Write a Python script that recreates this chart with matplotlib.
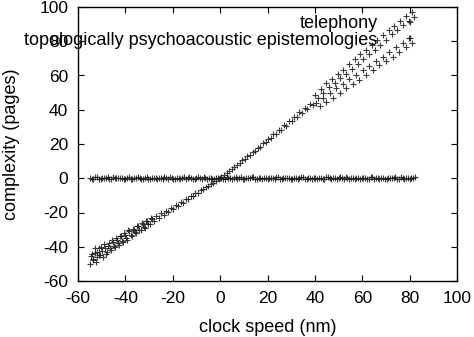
import matplotlib
matplotlib.use("Agg")
import matplotlib.pyplot as plt

plt.rcParams['font.family'] = ['Liberation Sans', 'DejaVu Sans']
plt.rcParams['axes.unicode_minus'] = False

# diagonal series (telephony)
tel_x = [-55, -54.2, -53.5, -53, -52.4, -51.8, -51, -50.3, -49.5, -48.7,
         -47.9, -47, -46.2, -45.3, -44.5, -43.6, -42.8, -41.9, -41, -40.1,
         -39.2, -38.3, -37.4, -36.5, -35.5, -34.6, -33.6, -32.7, -31.7, -30.8,
         -29.8, -28.8, -27.9, -26.9, -25.9, -24.9, -23.9, -22.9, -21.9, -20.9,
         -19.8, -18.8, -17.8, -16.7, -15.7, -14.6, -13.6, -12.5, -11.5, -10.4,
         -9.3, -8.2, -7.2, -6.1, -5.0, -3.9, -2.8, -1.7, -0.6,
         0.5, 1.6, 2.7, 3.8, 4.9, 6, 7.1, 8.2, 9.3, 10.4, 11.5, 12.6, 13.7,
         14.8, 15.9, 17, 18.1, 19.2, 20.3, 21.4, 22.5, 23.6, 24.7, 25.8, 26.9,
         28, 29.1, 30.2, 31.3, 32.4, 33.5, 34.6, 35.7, 36.8, 37.9, 39,
         40, 41.2, 42.4, 43.6, 44.8, 46, 47.2, 48.4, 49.6, 50.8, 52, 53.2,
         54.4, 55.6, 56.8, 58, 59.2, 60.4, 61.6, 62.8, 64, 65.2, 66.4, 67.6,
         68.8, 70, 71.2, 72.4, 73.6, 74.8, 76, 77.2, 78.4, 79.6, 80.8, 82,
         40.6, 42, 43.4, 44.8, 46.2, 47.6, 49, 50.4, 51.8, 53.2, 54.6, 56,
         57.4, 58.8, 60.2, 61.6, 63, 64.4, 65.8, 67.2, 68.6, 70, 71.4, 72.8,
         74.2, 75.6, 77, 78.4, 79.8, 81.2,
         -54.6, -53.8, -52.9, -52.1, -51.3, -50.6, -49.8, -49, -48.2, -47.3,
         -46.5, -45.7, -44.8, -44, -43.1, -42.3, -41.4, -40.5, -39.6, -38.7,
         -37.8, -36.9, -36, -35, -34.1, -33.1, -32.2, -31.2, -30.3, -29.3]
tel_y = [-50, -44, -47, -41, -49, -43, -45, -40, -46, -41,
         -43, -38, -42, -37, -40, -36, -39, -34, -37, -33,
         -36, -31, -34, -30, -32, -28, -30, -27, -29, -25,
         -27, -24, -25, -22, -23.5, -20.5, -21.5, -19, -19.8, -17.5,
         -18, -15.8, -16, -14, -14.2, -12.3, -12.2, -10.5, -10.4, -8.8,
         -8.4, -6.9, -6.5, -5.1, -4.6, -3.3, -2.6, -1.4, -0.5,
         0.6, 1.8, 3.0, 4.1, 5.5, 6.5, 8.0, 8.9, 10.5, 11.2, 12.9, 13.6, 15.4,
         16.0, 17.9, 18.4, 20.5, 21.0, 23.2, 23.5, 25.6, 26.0, 28.3, 28.4, 30.9,
         30.8, 33.5, 33.2, 35.9, 35.6, 38.5, 37.9, 41.0, 40.3, 43.4, 42.7,
         48.5, 47, 52, 50, 55.5, 53, 58, 55.5, 61, 58.5, 63.5, 61,
         66.5, 64, 69.5, 66.5, 72.5, 69.5, 75, 72.5, 78, 75, 81, 78,
         83.5, 81, 86.5, 84, 89, 86.5, 92, 89.5, 94.5, 92, 97, 94,
         44, 42, 47, 44.5, 49.5, 47, 52.5, 50, 55, 52.5, 58, 55,
         60.5, 57.5, 63, 60.5, 65.5, 63, 68.5, 66, 71, 68.5, 74, 71,
         76.5, 74, 79, 76.5, 82, 79,
         -45.5, -48, -43.5, -46, -40.5, -45, -42.5, -38.5, -44, -39.5,
         -41, -36, -39.5, -35, -38, -33.5, -36.5, -32, -35, -30.5,
         -33, -29.5, -31.5, -28, -30, -26, -28.5, -25, -27, -23.5]

# flat series (topologically psychoacoustic epistemologies)
epi_x = [-55, -53.5, -52, -50.5, -49, -47.5, -46, -44.5, -43, -41.5,
         -40, -38.5, -37, -35.5, -34, -32.5, -31, -29.5, -28, -26.5,
         -25, -23.5, -22, -20.5, -19, -17.5, -16, -14.5, -13, -11.5,
         -10, -8.5, -7, -5.5, -4, -2.5, -1, 0.5, 2, 3.5,
         5, 6.5, 8, 9.5, 11, 12.5, 14, 15.5, 17, 18.5,
         20, 21.5, 23, 24.5, 26, 27.5, 29, 30.5, 32, 33.5,
         35, 36.5, 38, 39.5, 41, 42.5, 44, 45.5, 47, 48.5,
         50, 51.5, 53, 54.5, 56, 57.5, 59, 60.5, 62, 63.5,
         65, 66.5, 68, 69.5, 71, 72.5, 74, 75.5, 77, 78.5, 80, 81.5,
         -54.25, -52.75, -51.25, -49.75, -48.25, -46.75, -45.25, -43.75, -42.25, -40.75,
         -39.25, -37.75, -36.25, -34.75, -33.25, -31.75, -30.25, -28.75, -27.25, -25.75,
         -24.25, -22.75, -21.25, -19.75, -18.25, -16.75, -15.25, -13.75, -12.25, -10.75,
         -9.25, -7.75, -6.25, -4.75, -3.25, -1.75, -0.25, 1.25, 2.75, 4.25,
         5.75, 7.25, 8.75, 10.25, 11.75, 13.25, 14.75, 16.25, 17.75, 19.25,
         20.75, 22.25, 23.75, 25.25, 26.75, 28.25, 29.75, 31.25, 32.75, 34.25,
         35.75, 37.25, 38.75, 40.25, 41.75, 43.25, 44.75, 46.25, 47.75, 49.25,
         50.75, 52.25, 53.75, 55.25, 56.75, 58.25, 59.75, 61.25, 62.75, 64.25,
         65.75, 67.25, 68.75, 70.25, 71.75, 73.25, 74.75, 76.25, 77.75, 79.25,
         80.75, 82.25]
epi_y = [0.3, -0.4, 0.6, -0.2, 0.1, 0.5, -0.5, 0.2, -0.1, 0.4,
         -0.3, 0.7, -0.6, 0.2, 0.0, -0.4, 0.5, -0.2, 0.3, -0.5,
         0.1, 0.6, -0.3, 0.2, -0.6, 0.4, 0.0, -0.2, 0.5, -0.4,
         0.2, -0.1, 0.6, -0.5, 0.3, -0.2, 0.1, 0.4, -0.6, 0.2,
         -0.3, 0.5, 0.0, -0.4, 0.3, -0.1, 0.6, -0.5, 0.2, 0.1,
         -0.3, 0.4, -0.2, 0.5, -0.6, 0.1, 0.3, -0.4, 0.2, -0.1,
         0.5, -0.3, 0.0, 0.4, -0.5, 0.2, -0.2, 0.6, -0.4, 0.1,
         0.3, -0.1, 0.5, -0.6, 0.2, 0.0, -0.3, 0.4, -0.2, 0.6,
         -0.5, 0.1, 0.3, -0.4, 0.2, -0.1, 0.5, -0.3, 0.0, 0.4, -0.2, 0.3,
         -0.2, 0.5, -0.6, 0.3, 0.0, -0.4, 0.6, -0.1, 0.3, -0.5,
         0.4, -0.2, 0.1, 0.6, -0.3, 0.2, -0.6, 0.4, 0.0, 0.3,
         -0.4, 0.1, 0.5, -0.2, 0.3, -0.5, 0.6, -0.1, 0.2, -0.3,
         0.5, -0.6, 0.1, 0.4, -0.2, 0.0, 0.3, -0.5, 0.6, -0.1,
         0.2, -0.4, 0.5, -0.3, 0.1, 0.6, -0.2, 0.3, -0.6, 0.4,
         0.0, -0.1, 0.5, -0.4, 0.2, 0.3, -0.5, 0.1, -0.2, 0.6,
         -0.3, 0.4, -0.6, 0.2, 0.0, -0.4, 0.5, -0.1, 0.3, -0.2,
         0.6, -0.5, 0.1, 0.3, -0.3, 0.4, -0.1, 0.2, -0.6, 0.5,
         0.0, -0.2, 0.4, -0.5, 0.3, 0.1, -0.4, 0.6, -0.3, 0.2,
         -0.1, 0.5]

fig = plt.figure(figsize=(4.74, 3.37), dpi=100)
ax = fig.add_axes([78 / 474, 56 / 337, 379 / 474, 274 / 337])

mk = dict(linestyle='none', marker='+', markersize=5, markeredgewidth=0.8,
          color='#1a1a1a', alpha=0.85)
ax.plot(tel_x, tel_y, label='telephony', **mk)
ax.plot(epi_x, epi_y, label='topologically psychoacoustic epistemologies', **mk)

ax.set_xlim(-60, 100)
ax.set_ylim(-60, 100)
ax.set_xticks([-60, -40, -20, 0, 20, 40, 60, 80, 100])
ax.set_yticks([-60, -40, -20, 0, 20, 40, 60, 80, 100])
ax.tick_params(direction='in', top=True, right=True, length=4, width=0.8,
               labelsize=12.5, pad=7)
for s in ax.spines.values():
    s.set_linewidth(1)

ax.set_xlabel('clock speed (nm)', fontsize=13)
ax.xaxis.set_label_coords(0.5, -0.14)
ax.set_ylabel('complexity (pages)', fontsize=13)
ax.yaxis.set_label_coords(-0.153, 0.5)

ax.legend(loc='upper right', bbox_to_anchor=(428 / 474, 1 - 15 / 337),
          bbox_transform=fig.transFigure, frameon=False, markerfirst=False,
          numpoints=1, fontsize=13, borderpad=0, borderaxespad=0,
          labelspacing=-0.02, handlelength=2, handletextpad=0.8)

fig.savefig('out.png', dpi=100)
